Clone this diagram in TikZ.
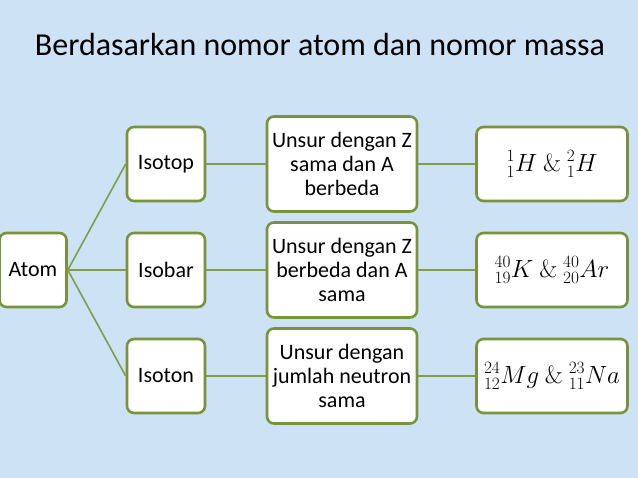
\documentclass[tikz,border=0pt]{standalone}
\usepackage[no-math]{fontspec}
\setmainfont{Carlito}
\usetikzlibrary{shapes}
\definecolor{hijau}{RGB}{119,147,60}
\definecolor{garis}{RGB}{128,158,74}
\definecolor{latar}{RGB}{205,226,244}

\begin{document}
\begin{tikzpicture}[x=1pt,y=1pt]
    \tikzstyle{kotak}=[rectangle,rounded corners=7pt,draw=hijau,line width=2.6pt,fill=white,align=center,inner sep=2pt,font=\fontsize{22}{24}\selectfont]
    \tikzstyle{akar}=[kotak,minimum width=67pt,minimum height=74pt]
    \tikzstyle{kecil}=[kotak,minimum width=78pt,minimum height=74pt]
    \tikzstyle{lebar}=[kotak,minimum width=150pt,minimum height=95pt]
    \tikzstyle{hasil}=[kotak,minimum width=151pt,minimum height=74pt,font=\fontsize{26}{28}\selectfont]
    \tikzstyle{edge from parent}=[draw=garis,line width=1.6pt]
    \tikzstyle{level 1}=[level distance=133pt,sibling distance=106pt]
    \tikzstyle{level 2}=[level distance=176pt]
    \tikzstyle{level 3}=[level distance=210pt]
    % latar belakang
    \fill[latar] (0,0) rectangle (638,-478);
    \useasboundingbox (0,0) rectangle (638,-478);
    \node[anchor=base,font=\fontsize{32}{36}\selectfont] (judul) at (320,-56) {Berdasarkan nomor atom dan nomor massa};
    \node[akar] (atom) at (33,-270) {Atom}
      [grow'=right,edge from parent path={(\tikzparentnode.east) -- (\tikzchildnode.west)}]
      child {node[kecil] (isotop) {Isotop}
        child {node[lebar] (def1) {Unsur dengan Z\\sama dan A\\berbeda}
          child {node[hasil] (cth1) {${}^{1}_{1}H\ \&\ {}^{2}_{1}H$}}}}
      child {node[kecil] (isobar) {Isobar}
        child {node[lebar] (def2) {Unsur dengan Z\\berbeda dan A\\sama}
          child {node[hasil] (cth2) {${}^{40}_{19}K\ \&\ {}^{40}_{20}Ar$}}}}
      child {node[kecil] (isoton) {Isoton}
        child {node[lebar] (def3) {Unsur dengan\\jumlah neutron\\sama}
          child {node[hasil] (cth3) {${}^{24}_{12}Mg\ \&\ {}^{23}_{11}Na$}}}}
  ;\end{tikzpicture}
\end{document}
